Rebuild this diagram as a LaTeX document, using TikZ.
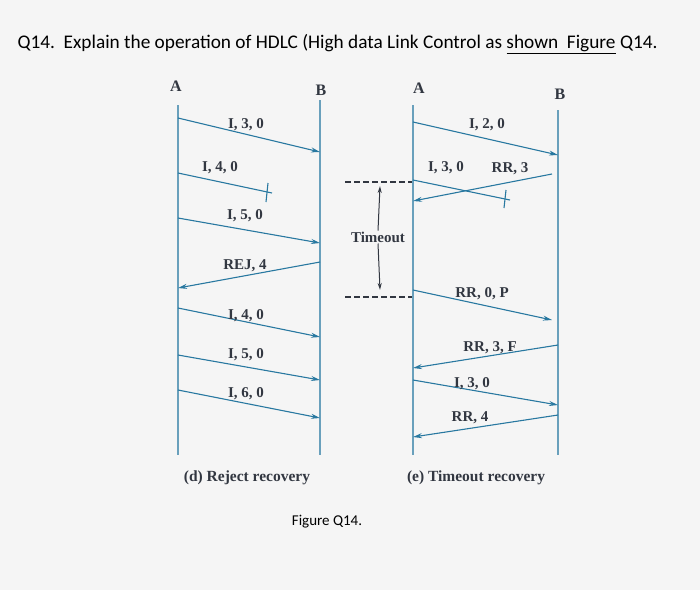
\documentclass[tikz,border=0pt]{standalone}
\usepackage{fontspec}
\setmainfont{Liberation Serif}
\newfontfamily\calib{Carlito}
\usetikzlibrary{arrows.meta}
\definecolor{ln}{RGB}{40,120,160}
\definecolor{ink}{RGB}{50,55,65}
\begin{document}
\begin{tikzpicture}[x=1pt,y=-1pt,
  life/.style={line width=1.1pt,ln!70},
  msg/.style={line width=1.1pt,ln,-{Stealth[length=9pt,width=5pt]}},
  lost/.style={line width=1.1pt,ln},
  lbl/.style={font=\bfseries\fontsize{15}{17}\selectfont,text=ink,inner sep=1pt},
  hdr/.style={font=\bfseries\fontsize{16}{18}\selectfont,text=ink},
  captext/.style={font=\bfseries\fontsize{15.5}{17}\selectfont,text=ink}]
\fill[black!4] (0,0) rectangle (700,590);
\useasboundingbox (0,0) rectangle (700,590);
\node[anchor=west,font=\calib\fontsize{19.3}{21}\selectfont] (title) at (14,44)
  {Q14.\ \ Explain the operation of HDLC (High data Link Control as \underline{shown\ \ Figure} Q14.};
% left
\node[hdr] (hA) at (176,86) {A};
\node[hdr] (hB) at (321,90) {B};
\coordinate (la0) at (178,105); \coordinate (la1) at (178,455);
\coordinate (lb0) at (320,100); \coordinate (lb1) at (320,455);
\draw[life] (la0)--(la1); \draw[life] (lb0)--(lb1);
\coordinate (a1) at (178,118); \coordinate (b1) at (320,152);
\draw[msg] (a1)--(b1); \node[lbl] (t1) at (246,125) {I, 3, 0};
\coordinate (a2) at (178,173); \coordinate (x2) at (272,193);
\draw[lost] (a2)--(x2); \draw[lost] (268,183)--(266,202);
\node[lbl] (t2) at (220,168) {I, 4, 0};
\coordinate (a3) at (178,218); \coordinate (b3) at (320,243);
\draw[msg] (a3)--(b3); \node[lbl] (t3) at (245,216) {I, 5, 0};
\coordinate (b4) at (320,262); \coordinate (a4) at (178,288);
\draw[msg] (b4)--(a4); \node[lbl] (t4) at (245,266) {REJ, 4};
\coordinate (a5) at (178,308); \coordinate (b5) at (320,337);
\draw[msg] (a5)--(b5); \node[lbl] (t5) at (246,316) {I, 4, 0};
\coordinate (a6) at (178,355); \coordinate (b6) at (320,380);
\draw[msg] (a6)--(b6); \node[lbl] (t6) at (246,355) {I, 5, 0};
\coordinate (a7) at (178,390); \coordinate (b7) at (320,418);
\draw[msg] (a7)--(b7); \node[lbl] (t7) at (246,394) {I, 6, 0};
\node[captext] (c1) at (247,478) {(d) Reject recovery};
% timeout
\coordinate (d1) at (345,182); \coordinate (d2) at (413,182);
\coordinate (d3) at (345,297); \coordinate (d4) at (413,297);
\draw[line width=1.1pt,ink,dash pattern=on 6pt off 3pt] (d1)--(d2);
\draw[line width=1.1pt,ink,dash pattern=on 6pt off 3pt] (d3)--(d4);
\node[lbl,font=\bfseries\fontsize{15}{17}\selectfont,fill=black!4] (to) at (378,237) {Timeout};
\coordinate (tu) at (380,186); \coordinate (td) at (380,290);
\draw[line width=1pt,ink,-{Stealth[length=7pt,width=4pt]}] (to.north)--(tu);
\draw[line width=1pt,ink,-{Stealth[length=7pt,width=4pt]}] (to.south)--(td);
% right
\node[hdr] (rA) at (419,88) {A};
\node[hdr] (rB) at (560,94) {B};
\coordinate (ra0) at (413,105); \coordinate (ra1) at (413,455);
\coordinate (rb0) at (558,110); \coordinate (rb1) at (558,455);
\draw[life] (ra0)--(ra1); \draw[life] (rb0)--(rb1);
\coordinate (p1) at (413,122); \coordinate (q1) at (558,155);
\draw[msg] (p1)--(q1); \node[lbl] (s1) at (487,125) {I, 2, 0};
\coordinate (p2) at (413,180); \coordinate (x3) at (510,200);
\draw[lost] (p2)--(x3); \draw[lost] (506,190)--(504,208);
\node[lbl] (s2) at (446,168) {I, 3, 0};
\coordinate (q2) at (552,174); \coordinate (p3) at (413,201);
\draw[msg] (q2)--(p3); \node[lbl] (s3) at (510,169) {RR, 3};
\coordinate (p4) at (413,290); \coordinate (q4) at (552,320);
\draw[msg] (p4)--(q4); \node[lbl] (s4) at (482,294) {RR, 0, P};
\coordinate (q5) at (558,345); \coordinate (p5) at (413,368);
\draw[msg] (q5)--(p5); \node[lbl] (s5) at (490,348) {RR, 3, F};
\coordinate (p6) at (413,380); \coordinate (q6) at (558,405);
\draw[msg] (p6)--(q6); \node[lbl] (s6) at (472,384) {I, 3, 0};
\coordinate (q7) at (558,415); \coordinate (p7) at (413,437);
\draw[msg] (q7)--(p7); \node[lbl] (s7) at (470,418) {RR, 4};
\node[captext] (c2) at (476,478) {(e) Timeout recovery};
\node[font=\calib\fontsize{15}{17}\selectfont] (fig) at (327,522) {Figure Q14.};
\end{tikzpicture}
\end{document}
